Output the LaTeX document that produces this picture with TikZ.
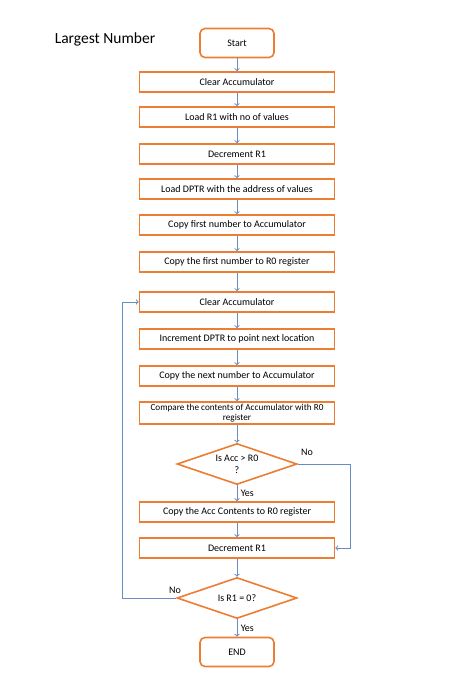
\documentclass[tikz,border=0pt]{standalone}
\usepackage{fontspec}
\setmainfont{Carlito}
\usetikzlibrary{arrows,shapes.geometric}
\definecolor{boxorange}{RGB}{237,125,49}
\definecolor{linkblue}{RGB}{105,140,195}

\begin{document}
\begin{tikzpicture}[x=1pt,y=-1pt,
	stepbox/.style={draw=boxorange, line width=1.6pt, fill=white, minimum width=195pt, minimum height=20pt, inner sep=1pt, font=\fontsize{10}{11}\selectfont, align=center},
	endbox/.style={stepbox, rounded corners=5pt, minimum width=74pt, minimum height=29pt},
	testbox/.style={draw=boxorange, line width=1.6pt, fill=white, diamond, aspect=2.9, minimum width=120pt, minimum height=41pt, inner sep=0pt, font=\fontsize{10}{11}\selectfont, align=center},
	link/.style={draw=linkblue, line width=1pt, ->, >=to},
	tag/.style={font=\fontsize{10}{11}\selectfont}]
			\useasboundingbox (0,0) rectangle (474,684);
			\node[font=\fontsize{15.5}{18}\selectfont] (title) at (105,39) {Largest Number};
			\node[endbox] (start) at (237,43) {Start};
			\node[stepbox] (clear1) at (237,82) {Clear Accumulator};
			\node[stepbox] (load1) at (237,117) {Load R1 with no of values};
			\node[stepbox] (dec1) at (237,154) {Decrement R1};
			\node[stepbox] (loaddptr) at (237,189) {Load DPTR with the address of values};
			\node[stepbox] (copyfirst) at (237,225) {Copy first number to Accumulator};
			\node[stepbox] (copyr0) at (237,262) {Copy the first number to R0 register};
			\node[stepbox] (clear2) at (237,302) {Clear Accumulator};
			\node[stepbox] (incdptr) at (237,339) {Increment DPTR to point next location};
			\node[stepbox] (copynext) at (237,376) {Copy the next number to Accumulator};
			\node[stepbox, minimum height=22pt, inner sep=0pt, font=\fontsize{9.2}{10.5}\selectfont] (compare) at (237,413) {Compare the contents of Accumulator with R0\\register};
			\node[testbox] (test1) at (237,464) {Is Acc > R0\\[1pt]?};
			\node[stepbox] (copyacc) at (237,512) {Copy the Acc Contents to R0 register};
			\node[stepbox] (dec2) at (237,548) {Decrement R1};
			\node[testbox] (test2) at (237,598) {Is R1 = 0?};
			\node[endbox] (stop) at (237,652) {END};
			% main line
			\draw[link] (start) -- (clear1);
			\draw[link] (clear1) -- (load1);
			\draw[link] (load1) -- (dec1);
			\draw[link] (dec1) -- (loaddptr);
			\draw[link] (loaddptr) -- (copyfirst);
			\draw[link] (copyfirst) -- (copyr0);
			\draw[link] (copyr0) -- (clear2);
			\draw[link] (clear2) -- (incdptr);
			\draw[link] (incdptr) -- (copynext);
			\draw[link] (copynext) -- (compare);
			\draw[link] (compare) -- (test1);
			\draw[link] (test1) -- node[tag, right, pos=0.5]{Yes} (copyacc);
			\draw[link] (copyacc) -- (dec2);
			\draw[link] (dec2) -- (test2);
			\draw[link] (test2) -- node[tag, right, pos=0.5]{Yes} (stop);
			% branches
			\draw[link] (test1.east) -- ++(53,0) |- (dec2.east);
			\node[tag] (no1) at (307,452) {No};
			\draw[link] (test2.west) -- ++(-54,0) |- (clear2.west);
			\node[tag] (no2) at (175,590) {No};
\end{tikzpicture}
\end{document}
